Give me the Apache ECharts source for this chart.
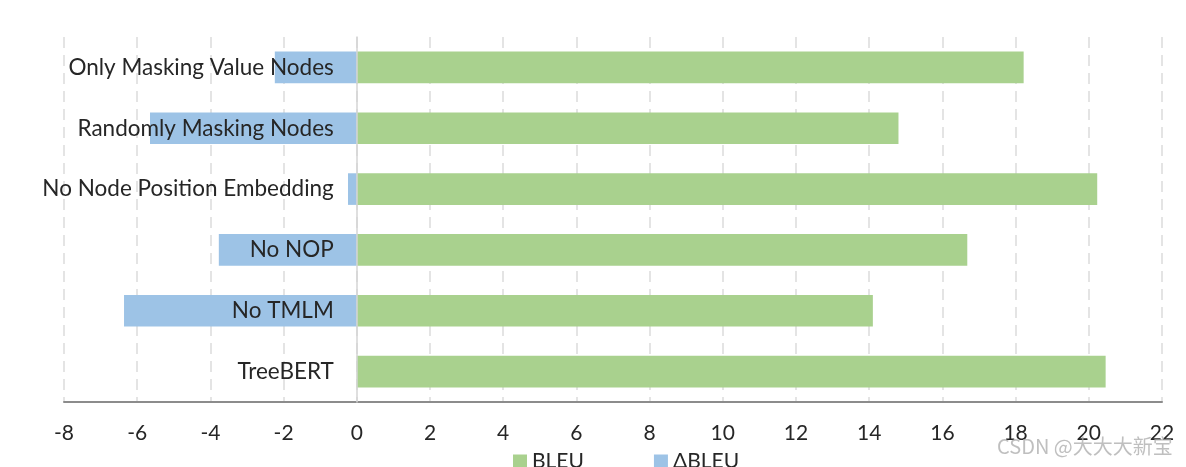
<!DOCTYPE html>
<html>
<head>
<meta charset="utf-8">
<script src="https://cdn.jsdelivr.net/npm/echarts@6/dist/echarts.min.js"></script>
<style>
  html, body { margin: 0; padding: 0; background: #fff; }
</style>
</head>
<body>
<!-- chart container -->
<div id="main" style="width: 1186px; height: 467px"></div>
<script>
// categories, top to bottom
var categories = ['Only Masking Value Nodes', 'Randomly Masking Nodes', 'No Node Position Embedding', 'No NOP', 'No TMLM', 'TreeBERT'];
// BLEU score of each variant
var bleu = [18.22, 14.8, 20.23, 16.68, 14.1, 20.46];
// drop compared with TreeBERT
var deltaBleu = [-2.24, -5.65, -0.24, -3.77, -6.36, 0];
// x axis ticks
var xTicks = [-8, -6, -4, -2, 0, 2, 4, 6, 8, 10, 12, 14, 16, 18, 20, 22];

var font = 'Lato';
var gridLeft = 64, gridRight = 24;
// y axis sits on x = 0, labels go with it
var zeroOffset = -(1186 - gridLeft - gridRight) * (0 - xTicks[0]) / (xTicks[xTicks.length - 1] - xTicks[0]);

var myChart = echarts.init(document.getElementById('main'));

var option = {
  animation: false,
  grid: { left: gridLeft, right: gridRight, top: 37, bottom: 65, containLabel: false, outerBoundsMode: 'none' },
  legend: {
    left: 508,
    top: 446,
    itemWidth: 14,
    itemHeight: 14,
    itemGap: 70,
    icon: 'rect',
    textStyle: { fontFamily: font, fontSize: 21, color: '#262626' },
    data: ['BLEU', '\u0394BLEU']
  },
  xAxis: {
    type: 'value',
    min: xTicks[0],
    max: xTicks[xTicks.length - 1],
    interval: 2,
    axisLine: { show: true, onZero: false, lineStyle: { color: '#8c8c8c', width: 2 } },
    axisTick: { show: false },
    axisLabel: { fontFamily: font, fontSize: 21, color: '#262626', margin: 21 },
    splitLine: { show: true, lineStyle: { type: [11, 7], color: '#dcdcdc', width: 1.5 } }
  },
  yAxis: {
    type: 'category',
    inverse: true,
    position: 'left',
    offset: zeroOffset,
    data: categories,
    z: 10,
    axisLine: { show: true, onZero: false, lineStyle: { color: '#d4d4d4', width: 1.5 } },
    axisTick: { show: false },
    axisLabel: { fontFamily: font, fontSize: 22.5, color: '#262626', margin: 23 },
    splitLine: { show: false }
  },
  series: [
    {
      name: 'BLEU',
      type: 'bar',
      data: bleu,
      barWidth: '52%',
      barGap: '-100%',
      itemStyle: { color: '#a9d18e' }
    },
    {
      name: '\u0394BLEU',
      type: 'bar',
      data: deltaBleu,
      barWidth: '52%',
      barGap: '-100%',
      itemStyle: { color: '#9dc3e6' }
    }
  ],
  graphic: [
    {
      type: 'text',
      left: 997,
      top: 436,
      z: 100,
      style: {
        text: 'CSDN @大大大新宝',
        fontFamily: 'Noto Sans CJK SC',
        fontSize: 20,
        fill: 'rgba(170,170,170,0.75)'
      }
    }
  ]
};

myChart.setOption(option);
</script>
</body>
</html>
